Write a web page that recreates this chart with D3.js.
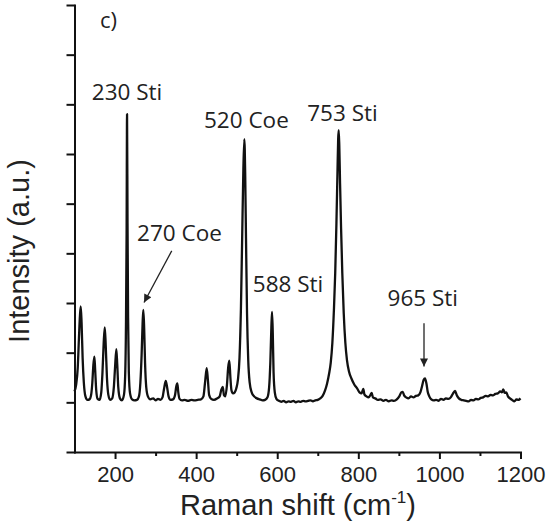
<!DOCTYPE html>
<html>
<head>
<meta charset="utf-8">
<script src="https://cdn.jsdelivr.net/npm/d3@7"></script>
<style>
    body { margin: 0; background: #fff; }
    svg { display: block; }
</style>
</head>
<body>
<svg id="chart"></svg>
<script>
// Raman spectrum: [shift (cm-1), intensity (a.u.)]
const spectrum = [
    [100, 1.22], [104, 1.35], [108, 1.7], [111, 2.3], [113.5, 2.75], [115.4, 2.93], [117.5, 2.6],
    [120, 1.9], [123, 1.4], [127, 1.12], [132, 1.05], [137, 1.06], [141, 1.15], [144, 1.4],
    [146.5, 1.75], [149, 1.92], [151, 1.65], [153.5, 1.25], [157, 1.07], [162, 1.05], [166, 1.2],
    [169, 1.6], [172, 2.2], [174.6, 2.51], [177, 2.15], [180, 1.5], [183.5, 1.15], [188, 1.05],
    [193, 1.08], [197, 1.3], [200, 1.7], [203.2, 2.07], [205.5, 1.75], [208, 1.3], [212, 1.08],
    [217, 1.04], [222, 1.15], [225, 1.55], [227, 2.6], [228.5, 4.4], [229.6, 6.8], [230.8, 4.6],
    [232.2, 2.7], [234, 1.6], [237, 1.18], [242, 1.06], [248, 1.04], [254, 1.05], [259, 1.12],
    [262.5, 1.4], [265.5, 1.95], [268, 2.6], [269.8, 2.86], [271.8, 2.5], [274, 1.8], [277, 1.3],
    [281, 1.12], [287, 1.06], [294, 1.08], [300, 1.04], [306, 1.07], [312, 1.05], [317, 1.1],
    [321, 1.28], [325, 1.43], [328.5, 1.3], [332, 1.12], [337, 1.05], [343, 1.06], [348, 1.15],
    [351, 1.32], [353.6, 1.38], [356, 1.2], [359, 1.07], [365, 1.04], [372, 1.05], [380, 1.03],
    [388, 1.05], [396, 1.04], [404, 1.05], [412, 1.06], [418, 1.12], [422, 1.4], [426, 1.69],
    [429, 1.45], [432, 1.15], [437, 1.07], [444, 1.05], [452, 1.08], [458, 1.12], [462, 1.25],
    [465.6, 1.31], [468.5, 1.15], [472, 1.12], [476, 1.35], [479, 1.7], [481.9, 1.84], [484.5, 1.5],
    [487, 1.25], [491, 1.18], [495, 1.2], [499, 1.28], [503, 1.45], [507, 1.9], [510.5, 2.9],
    [513.5, 4.3], [516.5, 5.7], [518.9, 6.3], [521, 5.6], [523, 4.3], [525.5, 2.8], [528.5, 1.85],
    [532, 1.4], [537, 1.2], [543, 1.12], [550, 1.08], [557, 1.06], [564, 1.04], [570, 1.05],
    [576, 1.1], [580, 1.3], [583, 1.8], [585.5, 2.5], [587.2, 2.82], [589, 2.4], [591, 1.6],
    [594, 1.2], [598, 1.07], [604, 1.03], [610, 1.01], [616, 1.03], [622, 1.0], [628, 1.02],
    [634, 1.01], [640, 1.03], [646, 1.0], [652, 1.02], [658, 1.01], [664, 1.03], [670, 1.02],
    [676, 1.03], [682, 1.04], [688, 1.02], [694, 1.04], [700, 1.05], [706, 1.08], [712, 1.13],
    [718, 1.24], [723, 1.38], [728, 1.58], [732, 1.8], [736, 2.2], [740, 2.9], [743, 3.6],
    [746, 4.6], [748.5, 5.6], [750.3, 6.3], [751.6, 6.48], [753, 6.2], [755, 5.4], [757.5, 4.5],
    [760.5, 3.6], [764, 2.8], [768, 2.2], [772, 1.85], [777, 1.62], [783, 1.48], [790, 1.36],
    [797, 1.28], [803, 1.2], [808, 1.18], [812.3, 1.27], [815, 1.16], [820, 1.12], [826, 1.1],
    [830, 1.15], [833, 1.19], [836, 1.1], [842, 1.08], [848, 1.05], [855, 1.06], [862, 1.03],
    [868, 1.05], [875, 1.02], [882, 1.04], [888, 1.03], [895, 1.06], [901, 1.12], [906, 1.2],
    [909.5, 1.21], [913, 1.14], [918, 1.1], [924, 1.08], [930, 1.12], [936, 1.1], [942, 1.13],
    [948, 1.14], [953, 1.2], [957, 1.32], [961, 1.45], [964.5, 1.48], [968, 1.38], [971, 1.22],
    [975, 1.12], [980, 1.06], [986, 1.04], [992, 1.05], [998, 1.03], [1004, 1.07], [1010, 1.05],
    [1016, 1.08], [1022, 1.07], [1028, 1.1], [1033, 1.17], [1038.5, 1.23], [1043, 1.14], [1048, 1.08],
    [1054, 1.05], [1060, 1.04], [1066, 1.03], [1072, 1.02], [1078, 1.05], [1084, 1.04], [1090, 1.07],
    [1096, 1.06], [1102, 1.09], [1108, 1.1], [1114, 1.13], [1120, 1.12], [1126, 1.15], [1132, 1.14],
    [1138, 1.17], [1144, 1.18], [1150, 1.22], [1154, 1.2], [1157.6, 1.26], [1161, 1.19], [1165, 1.2],
    [1169, 1.12], [1174, 1.08], [1179, 1.05], [1185, 1.02], [1190, 1.06], [1195, 1.05], [1200, 1.08]
];

// Axis ticks
const xMajorTicks = [200, 400, 600, 800, 1000, 1200];
const xMinorTicks = [300, 500, 700, 900, 1100];
const yTicks = [0, 1, 2, 3, 4, 5, 6, 7, 8, 9];

// Peak labels (anchor in data units, text centred)
const peakLabels = ['230 Sti', '270 Coe', '520 Coe', '588 Sti', '753 Sti', '965 Sti'];
const labelShift = [229.6, 359, 524, 626.6, 761, 959];
const labelIntensity = [7.09, 4.25, 6.52, 3.23, 6.67, 2.93];

// Arrows pointing at the weaker peaks
const arrowStart = [[339.8, 4.05], [962, 2.59]];
const arrowEnd = [[271.5, 3.01], [962, 1.72]];

const W = 550, H = 529;
const margin = {top: 5, right: 29.5, bottom: 77, left: 74.5};

const svg = d3.select('#chart')
    .attr('width', W)
    .attr('height', H);

const x = d3.scaleLinear()
    .domain([100, 1200])
    .range([margin.left, W - margin.right]);

const y = d3.scaleLinear()
    .domain([0, 9])
    .range([H - margin.bottom, margin.top]);

// axes
const xAxis = svg.append('g')
    .attr('transform', `translate(0,${y(0)})`)
    .call(d3.axisBottom(x).tickValues(xMajorTicks).tickSize(7).tickSizeOuter(0)
        .tickPadding(7).tickFormat(d3.format('d')));

svg.append('g')
    .attr('transform', `translate(0,${y(0)})`)
    .call(d3.axisBottom(x).tickValues(xMinorTicks).tickSize(4).tickSizeOuter(0).tickFormat(''))
    .select('.domain').remove();

const yAxis = svg.append('g')
    .attr('transform', `translate(${x(100)},0)`)
    .call(d3.axisLeft(y).tickValues(yTicks).tickSize(8).tickSizeOuter(0).tickFormat(''));

svg.selectAll('.domain')
    .attr('stroke', '#111')
    .attr('stroke-width', 2)
    .attr('stroke-linecap', 'square');
svg.selectAll('.tick line')
    .attr('stroke', '#111')
    .attr('stroke-width', 2);
xAxis.selectAll('.tick text')
    .attr('font-family', '"Liberation Sans", Arial, sans-serif')
    .attr('font-size', 22)
    .attr('fill', '#222');

// spectrum
const line = d3.line()
    .x(d => x(d[0]))
    .y(d => y(d[1]))
    .curve(d3.curveMonotoneX);

svg.append('path')
    .datum(spectrum)
    .attr('fill', 'none')
    .attr('stroke', '#111')
    .attr('stroke-width', 2.3)
    .attr('stroke-linejoin', 'round')
    .attr('d', line);

// axis titles
svg.append('text')
    .attr('x', 298)
    .attr('y', 515)
    .attr('text-anchor', 'middle')
    .attr('font-family', '"Liberation Sans", Arial, sans-serif')
    .attr('font-size', 29)
    .attr('fill', '#222')
    .text('Raman shift (cm')
    .append('tspan').attr('font-size', 17).attr('dy', -12).text('-1')
    .select(function() { return this.parentNode; })
    .append('tspan').attr('dy', 12).text(')');

svg.append('text')
    .attr('transform', 'translate(29,251) rotate(-90)')
    .attr('text-anchor', 'middle')
    .attr('font-family', '"Liberation Sans", Arial, sans-serif')
    .attr('font-size', 29)
    .attr('fill', '#222')
    .text('Intensity (a.u.)');

// panel tag
svg.append('text')
    .attr('x', x(163))
    .attr('y', y(8.54))
    .attr('font-family', '"Open Sans", sans-serif')
    .attr('font-size', 22)
    .attr('fill', '#222')
    .text('c)');

// peak labels
svg.selectAll('.peak-label')
    .data(peakLabels)
    .enter().append('text')
    .attr('class', 'peak-label')
    .attr('x', (d, i) => x(labelShift[i]))
    .attr('y', (d, i) => y(labelIntensity[i]))
    .attr('text-anchor', 'middle')
    .attr('font-family', '"Open Sans", sans-serif')
    .attr('font-size', 22.5)
    .attr('fill', '#222')
    .text(d => d);

// arrows
svg.append('defs').append('marker')
    .attr('id', 'head')
    .attr('viewBox', '0 0 10 10')
    .attr('refX', 10)
    .attr('refY', 5)
    .attr('markerUnits', 'userSpaceOnUse')
    .attr('markerWidth', 10)
    .attr('markerHeight', 8)
    .attr('orient', 'auto')
    .append('path')
    .attr('d', 'M0,0L10,5L0,10Z')
    .attr('fill', '#222');

svg.selectAll('.arrow')
    .data(arrowStart)
    .enter().append('line')
    .attr('class', 'arrow')
    .attr('x1', d => x(d[0]))
    .attr('y1', d => y(d[1]))
    .attr('x2', (d, i) => x(arrowEnd[i][0]))
    .attr('y2', (d, i) => y(arrowEnd[i][1]))
    .attr('stroke', '#222')
    .attr('stroke-width', 1.3)
    .attr('marker-end', 'url(#head)');
</script>
</body>
</html>
